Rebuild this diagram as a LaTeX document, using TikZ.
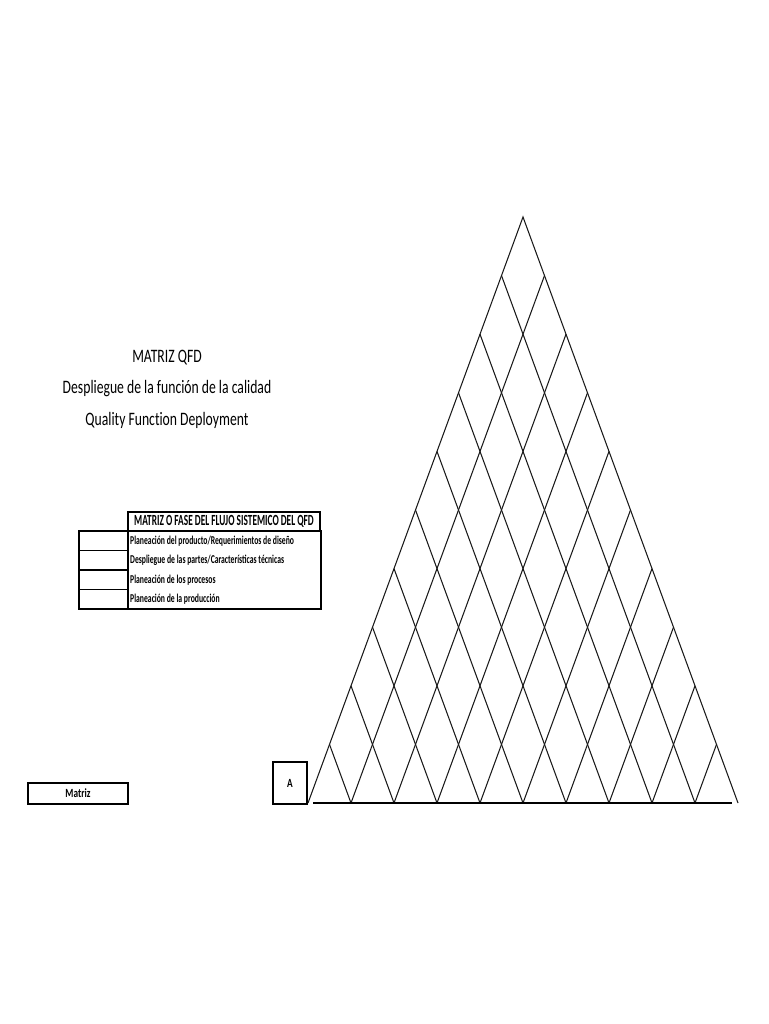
\documentclass[tikz,border=0pt]{standalone}
\usepackage{fontspec}
\setmainfont{Carlito}
\newfontfamily\titlefont{Carlito}[FakeStretch=0.72,Ligatures=NoCommon]
\newfontfamily\headfont{Carlito}[FakeStretch=0.6]
\newfontfamily\cellfont{Carlito}[FakeStretch=0.64]
\newfontfamily\tagfont{Carlito}[FakeStretch=0.74]
\usetikzlibrary{calc,positioning}

\begin{document}
\begin{tikzpicture}[x=1pt,y=-1pt,node distance=31pt]
    \tikzstyle{title}=[inner sep=0pt,font=\titlefont\fontsize{19}{22}\selectfont]
    \tikzstyle{grid}=[draw=black!90,line width=1.05pt]
    \tikzstyle{cell}=[draw=black,line width=1.4pt,inner sep=0pt,outer sep=0pt]
    \tikzstyle{rowtext}=[inner sep=0pt,font=\cellfont\fontsize{12}{14}\selectfont\bfseries]
    \tikzstyle{tag}=[draw=black,line width=2pt,inner sep=0pt,font=\tagfont\fontsize{12.5}{14}\selectfont\bfseries]
    \useasboundingbox (0,0) rectangle (768,1024);

    % titulo
    \node[title] at (167,358)  (t1)                {MATRIZ QFD};
    \node[title]               (t2) [below of=t1]  {Despliegue de la función de la calidad};
    \node[title]               (t3) [below of=t2]  {Quality Function Deployment};

    % tabla de fases
    \node[cell,line width=2pt,anchor=north west,minimum width=192pt,minimum height=19pt,
          font=\headfont\fontsize{15.5}{17}\selectfont\bfseries]
          (head) at (128,512) {MATRIZ O FASE DEL FLUJO SISTEMICO DEL QFD};
    \node[cell,anchor=north west,minimum width=193pt,minimum height=78pt] (body) at (128,531) {};
    \node[cell,anchor=north west,minimum width=49pt,minimum height=19.5pt] (c1) at (79,531) {};
    \node[cell,minimum width=49pt,minimum height=19.5pt] (c2) [below=0pt of c1] {};
    \node[cell,minimum width=49pt,minimum height=19.5pt] (c3) [below=0pt of c2] {};
    \node[cell,minimum width=49pt,minimum height=19.5pt] (c4) [below=0pt of c3] {};
    \node[rowtext] (r1) [right=2pt of c1] {Planeación del producto/Requerimientos de diseño};
    \node[rowtext] (r2) [right=2pt of c2] {Despliegue de las partes/Características técnicas};
    \node[rowtext] (r3) [right=2pt of c3] {Planeación de los procesos};
    \node[rowtext] (r4) [right=2pt of c4] {Planeación de la producción};

    % recuadros sueltos
    \node[tag,minimum width=100pt,minimum height=21pt] (matriz) at (78,793.5) {Matriz};
    \node[tag,minimum width=34pt,minimum height=42pt]  (A)      at (290,783)  {A};

    % triangulo con rombos
    \coordinate (left)  at (308,803);
    \coordinate (apex)  at (523,217);
    \coordinate (right) at (738,803);
    \draw[grid] (left) -- (apex) -- (right);
    \foreach \i in {1,...,9} {
        \draw[grid] ($(left)!\i/10!(right)$) -- ($(apex)!\i/10!(right)$);
        \draw[grid] ($(left)!\i/10!(right)$) -- ($(left)!\i/10!(apex)$);
    }
    \draw[line width=2.6pt] ($(left)!0.012!(right)$) -- ($(right)!0.014!(left)$);
\end{tikzpicture}
\end{document}
